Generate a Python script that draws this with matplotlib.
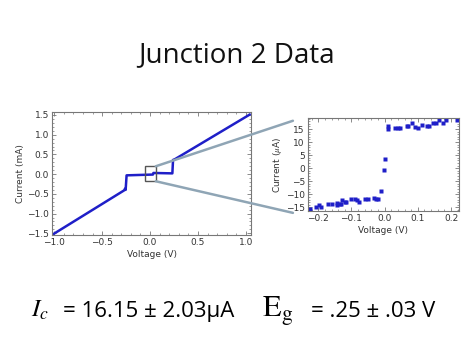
import numpy as np
import matplotlib.pyplot as plt
from matplotlib.patches import Rectangle, ConnectionPatch
from matplotlib.ticker import MultipleLocator

# full sweep (mA vs V)
v_full = [-1.01, -0.27, -0.262, -0.255, -0.245, 0.03, 0.035, 0.233, 0.24, 0.26, 1.04]
i_full = [-1.52, -0.41, -0.37, -0.40, -0.03, -0.01, 0.03, 0.02, 0.36, 0.38, 1.51]

# zoomed region near 0 V (uA vs V)
v_zoom = [-0.225, -0.207, -0.197, -0.192, -0.170, -0.160, -0.145, -0.142, -0.135,
          -0.130, -0.127, -0.120, -0.115, -0.100, -0.089, -0.084, -0.076, -0.059,
          -0.049, -0.032, -0.026, -0.021, -0.012, -0.002, 0.0, 0.009, 0.009,
          0.031, 0.041, 0.046, 0.066, 0.071, 0.081, 0.091, 0.102, 0.112, 0.127,
          0.135, 0.147, 0.155, 0.165, 0.175, 0.185, 0.217]
i_zoom = [-15.8, -14.7, -14.1, -14.9, -13.9, -13.9, -13.5, -14.1, -13.9,
          -13.9, -12.2, -13.1, -12.8, -11.9, -11.9, -12.2, -13.1, -11.9,
          -11.9, -11.3, -11.9, -11.9, -8.7, -0.7, 3.4, 16.2, 15.1,
          15.3, 15.3, 15.3, 16.3, 16.3, 17.2, 15.9, 15.3, 16.5, 16.3,
          16.3, 17.4, 17.4, 18.4, 17.4, 18.4, 18.4]

blue = '#1f1fc8'
frame = '#777777'

plt.rcParams['mathtext.fontset'] = 'stix'
fig = plt.figure(figsize=(4.74, 3.55), dpi=100)
fig.patch.set_facecolor('white')

fig.text(0.5, 1 - 55 / 355, 'Junction 2 Data', ha='center', va='center',
         fontsize=20, family='Open Sans', color='#111111')


def style(ax):
    ax.tick_params(which='both', direction='in', top=True, right=True,
                   colors=frame, labelcolor='#333333', labelsize=6.5, pad=2)
    ax.tick_params(which='major', length=3, width=0.6)
    ax.tick_params(which='minor', length=1.5, width=0.5)
    for s in ax.spines.values():
        s.set_color(frame)
        s.set_linewidth(0.8)


ax1 = fig.add_axes([0.1097, 0.338, 0.420, 0.3465])
ax1.plot(v_full, i_full, color=blue, lw=1.8)
ax1.set_xlim(-1.024, 1.055)
ax1.set_ylim(-1.543, 1.576)
ax1.xaxis.set_major_locator(MultipleLocator(0.5))
ax1.xaxis.set_minor_locator(MultipleLocator(0.1))
ax1.yaxis.set_major_locator(MultipleLocator(0.5))
ax1.yaxis.set_minor_locator(MultipleLocator(0.1))
ax1.set_xlabel('Voltage (V)', fontsize=6.5, color='#333333', labelpad=2)
ax1.set_ylabel('Current (mA)', fontsize=6.5, color='#333333', labelpad=2)
style(ax1)
ax1.add_patch(Rectangle((-0.05, -0.18), 0.11, 0.38, fill=False,
                        edgecolor='#555555', lw=1, zorder=5))

ax2 = fig.add_axes([0.649, 0.4056, 0.320, 0.261])
ax2.plot(v_zoom, i_zoom, 's', color=blue, ms=2.2, mec='none')
ax2.set_xlim(-0.232, 0.225)
ax2.set_ylim(-16.4, 19.1)
ax2.xaxis.set_major_locator(MultipleLocator(0.1))
ax2.xaxis.set_minor_locator(MultipleLocator(0.02))
ax2.yaxis.set_major_locator(MultipleLocator(5))
ax2.yaxis.set_minor_locator(MultipleLocator(1))
ax2.set_xlabel('Voltage (V)', fontsize=6.5, color='#333333', labelpad=2)
ax2.set_ylabel(r'Current ($\mu$A)', fontsize=6.5, color='#333333', labelpad=1)
style(ax2)

for ya, yb in [(0.2, 0.974), (-0.18, -0.02)]:
    con = ConnectionPatch(xyA=(0.06, ya), coordsA=ax1.transData,
                          xyB=(-0.097, yb), coordsB=ax2.transAxes,
                          color='#8fa5b5', lw=1.8)
    fig.add_artist(con)

base = 1 - 316.7 / 355
fig.text(31 / 474, base, r'$I_c$', fontsize=18, va='baseline')
fig.text(63 / 474, base, '= 16.15 ± 2.03μA', fontsize=16,
         family='Open Sans', va='baseline')
fig.text(262 / 474, base, r'$\mathrm{E_g}$', fontsize=22, va='baseline')
fig.text(311 / 474, base, '= .25 ± .03 V', fontsize=16,
         family='Open Sans', va='baseline')

fig.savefig('out.png', dpi=100)
